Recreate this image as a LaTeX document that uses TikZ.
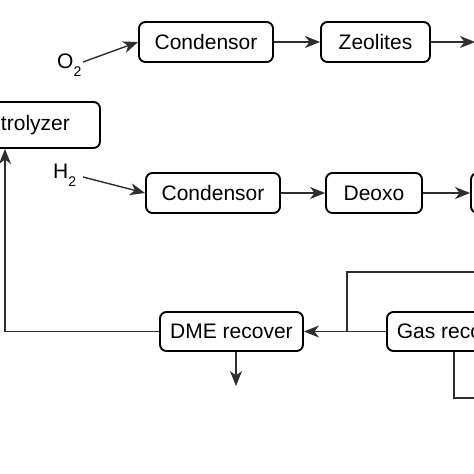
\documentclass[tikz,border=0pt]{standalone}
\usepackage{fontspec}
\setmainfont{Liberation Sans}
\usetikzlibrary{arrows.meta}
\definecolor{lncol}{HTML}{2E2E2E}
\tikzset{
  box/.style={draw=black, line width=1.9pt, rounded corners=6.5pt, minimum height=40pt,
    inner xsep=0pt, inner ysep=0pt, font=\fontsize{21}{25}\selectfont, text=black},
  conn/.style={draw=lncol, line width=1.4pt, -{Stealth[length=15pt,width=12pt,inset=4.5pt]}},
  plain/.style={draw=lncol, line width=1.4pt},
  lbl/.style={inner sep=0pt, anchor=base west, font=\fontsize{21}{25}\selectfont, text=black}
}
\newcommand{\subtwo}{\raisebox{-8pt}{\fontsize{14}{14}\selectfont 2}}
\begin{document}
\begin{tikzpicture}[x=1pt,y=-1pt]
\clip (0,0) rectangle (474,474);
\fill[white] (0,0) rectangle (474,474);
% boxes
\node[box, minimum width=134pt] (c1) at (206,42) {Condensor};
\node[box, minimum width=109pt] (zeo) at (375.5,42) {Zeolites};
\node[box, minimum width=170pt, minimum height=46pt] (elec) at (15,125) {Electrolyzer};
\node[box, minimum width=134pt] (c2) at (213,193) {Condensor};
\node[box, minimum width=96pt] (deo) at (374,193) {Deoxo};
\node[box, minimum width=120pt] (rbox) at (531,193) {};
\node[box, minimum width=143pt, minimum height=39pt] (dme) at (231.5,331.5) {DME recover};
\node[box, minimum width=134pt, minimum height=39pt] (gas) at (454,331.5) {Gas recover};
% labels
\node[lbl] (o2) at (57,68) {O\subtwo};
\node[lbl] (h2) at (53,178) {H\subtwo};
% coordinates
\coordinate (o2s) at (83,62);
\coordinate (h2s) at (83,177);
\coordinate (zr) at (475,42);
\coordinate (lft) at (5,331.5);
\coordinate (lx) at (5,148);
\coordinate (j) at (347,331.5);
\coordinate (jt) at (347,272);
\coordinate (jr) at (476,272);
\coordinate (gb) at (454,398);
\coordinate (gbr) at (476,398);
\coordinate (dout) at (236,386);
% connectors
\draw[conn] (o2s) -- (c1.west);
\draw[conn] (c1) -- (zeo);
\draw[conn] (zeo.east) -- (zr);
\draw[conn] (h2s) -- (c2.west);
\draw[conn] (c2) -- (deo);
\draw[conn] (deo) -- (rbox);
\draw[conn] (gas.west) -- (dme.east);
\draw[plain] (jr) -- (jt) -- (j);
\draw[plain] (gas.south) -- (gb) -- (gbr);
\draw[conn] (dme.south -| dout) -- (dout);
\draw[conn] (dme.west) -- (lft) -- (lx |- elec.south);
\end{tikzpicture}
\end{document}
